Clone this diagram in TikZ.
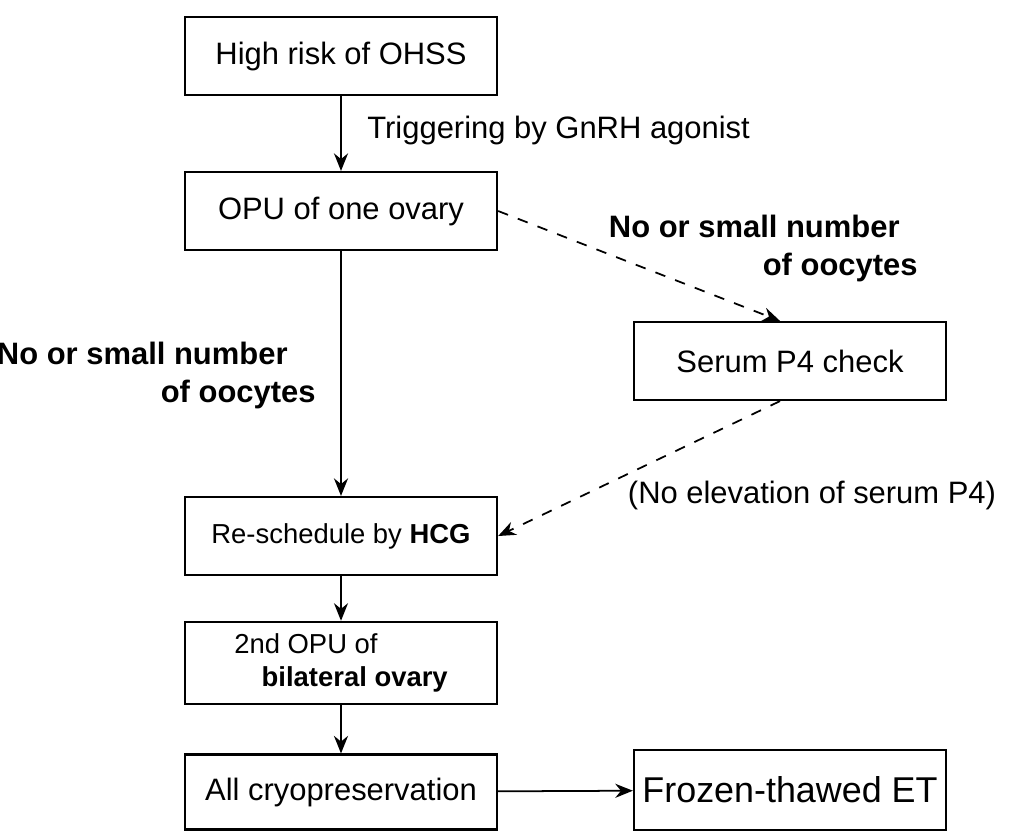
\documentclass[tikz,border=0pt]{standalone}
\usepackage{fontspec}
\setmainfont{Liberation Sans}
\usetikzlibrary{arrows.meta}
\begin{document}
\begin{tikzpicture}[x=0.01cm, y=-0.01cm,
    box/.style={rectangle, draw, line width=0.6pt, minimum width=3.12cm, minimum height=0.78cm, align=center, font=\fontsize{8.8}{10.5}\selectfont},
    arrow/.style={-{Stealth[length=5pt,width=4pt]}, line width=0.5pt},
    dashedarrow/.style={arrow, dashed},
    lbl/.style={font=\fontsize{8.8}{10.5}\selectfont},
    boldlbl/.style={font=\fontsize{8.8}{10.8}\selectfont\bfseries, align=right}
]
    \useasboundingbox (0,0) rectangle (1009,838);
    % Boxes
    \node[box] (risk) at (341,56) {High risk of OHSS};
    \node[box] (opu) at (341,211) {OPU of one ovary};
    \node[box] (serum) at (790,361) {Serum P4 check};
    \node[box, font=\fontsize{7.8}{9.5}\selectfont] (resched) at (341,536) {Re-schedule by \textbf{HCG}};
    \node[box, font=\fontsize{7.8}{9.5}\selectfont, align=left] (second) at (341,663) {2nd OPU of\\\hspace*{1.0em}\textbf{bilateral ovary}};
    \node[box, minimum height=0.75cm] (cryo) at (341,792) {All cryopreservation};
    \node[box, minimum height=0.8cm, inner xsep=2pt, font=\fontsize{10.2}{12}\selectfont] (frozen) at (790,790) {Frozen-thawed ET};

    % Connections
    \draw[arrow] (risk) -- (opu);
    \node[lbl, anchor=west] (trig) at (355,130) {Triggering by GnRH agonist};
    \draw[arrow] (opu) -- (resched);
    \node[boldlbl, anchor=east] (few1) at (328,375) {No or small number\hspace*{0.28cm}\\of oocytes};
    \draw[dashedarrow] (opu.east) -- (serum.north -| 780,0);
    \node[boldlbl, anchor=east] (few2) at (930,248) {No or small number\hspace*{0.18cm}\\of oocytes};
    \draw[dashedarrow] (serum.south -| 780,0) -- (resched.east);
    \node[lbl] (noelev) at (812,495) {(No elevation of serum P4)};
    \draw[arrow] (resched) -- (second);
    \draw[arrow] (second) -- (cryo);
    \draw[arrow] (cryo) -- (frozen);
\end{tikzpicture}
\end{document}
